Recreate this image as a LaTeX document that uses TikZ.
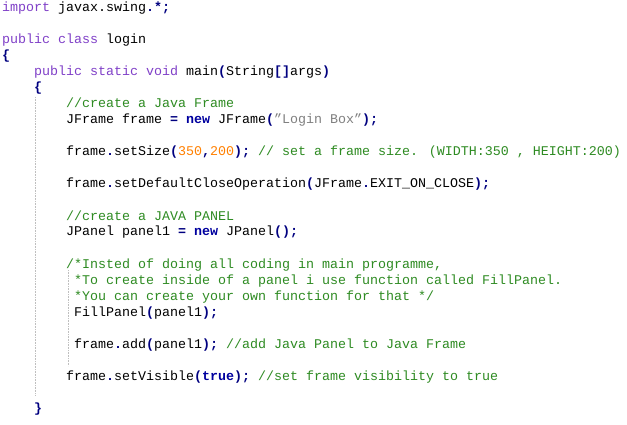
\documentclass[tikz,border=0pt]{standalone}
\usepackage{fontspec}
\setmainfont{Liberation Mono}
\definecolor{kw}{HTML}{8040C8}
\definecolor{kn}{HTML}{00009F}
\definecolor{cm}{HTML}{2E8B22}
\definecolor{st}{HTML}{808080}
\definecolor{nu}{HTML}{FF8000}
\definecolor{pu}{HTML}{000080}
\newcommand{\cKw}[1]{\textcolor{kw}{#1}}
\newcommand{\cNw}[1]{\textcolor{kn}{\textbf{#1}}}
\newcommand{\cCm}[1]{\textcolor{cm}{#1}}
\newcommand{\cSt}[1]{\textcolor{st}{#1}}
\newcommand{\cNu}[1]{\textcolor{nu}{#1}}
\newcommand{\cPu}[1]{\textcolor{pu}{\textbf{#1}}}
\newcommand{\cQ}{\symbol{34}}
\begin{document}
\begin{tikzpicture}[x=1pt,y=-1pt,
  code/.style={anchor=base west,inner sep=0pt,font=\fontsize{13.33}{16}\selectfont},
  guide/.style={gray!50,densely dotted,line width=0.6pt}]
\useasboundingbox[fill=white] (0,0) rectangle (627,425);
\newcommand{\cLn}[4]{\node[code] (#1) at ({2+8*#2},{12+16*#3}) {#4};}
\cLn{l0}{0}{0}{\cKw{import} javax.swing\cPu{.*;}}
\cLn{l2}{0}{2}{\cKw{public} \cKw{class} login}
\cLn{l3}{0}{3}{\cPu{\{}}
\cLn{l4}{4}{4}{\cKw{public} \cKw{static} \cKw{void} main\cPu{(}String\cPu{[]}args\cPu{)}}
\cLn{l5}{4}{5}{\cPu{\{}}
\cLn{l6}{8}{6}{\cCm{//create a Java Frame}}
\cLn{l7}{8}{7}{JFrame frame \cPu{=} \cNw{new} JFrame\cPu{(}\cSt{\cQ Login Box\cQ}\cPu{);}}
\cLn{l9}{8}{9}{frame\cPu{.}setSize\cPu{(}\cNu{350}\cPu{,}\cNu{200}\cPu{);} \cCm{// set a frame size. (WIDTH:350 , HEIGHT:200)}}
\cLn{l11}{8}{11}{frame\cPu{.}setDefaultCloseOperation\cPu{(}JFrame\cPu{.}EXIT\_ON\_CLOSE\cPu{);}}
\cLn{l13}{8}{13}{\cCm{//create a JAVA PANEL}}
\cLn{l14}{8}{14}{JPanel panel1 \cPu{=} \cNw{new} JPanel\cPu{();}}
\cLn{l16}{8}{16}{\cCm{/*Insted of doing all coding in main programme,}}
\cLn{l17}{9}{17}{\cCm{*To create inside of a panel i use function called FillPanel.}}
\cLn{l18}{9}{18}{\cCm{*You can create your own function for that */}}
\cLn{l19}{9}{19}{FillPanel\cPu{(}panel1\cPu{);}}
\cLn{l21}{9}{21}{frame\cPu{.}add\cPu{(}panel1\cPu{);} \cCm{//add Java Panel to Java Frame}}
\cLn{l23}{8}{23}{frame\cPu{.}setVisible\cPu{(}\cNw{true}\cPu{);} \cCm{//set frame visibility to true}}
\cLn{l25}{4}{25}{\cPu{\}}}
\coordinate (g1a) at (35,97); \coordinate (g1b) at (35,396);
\coordinate (g2a) at (68,270); \coordinate (g2b) at (68,366);
\draw[guide] (g1a) -- (g1b);
\draw[guide] (g2a) -- (g2b);
\end{tikzpicture}
\end{document}
